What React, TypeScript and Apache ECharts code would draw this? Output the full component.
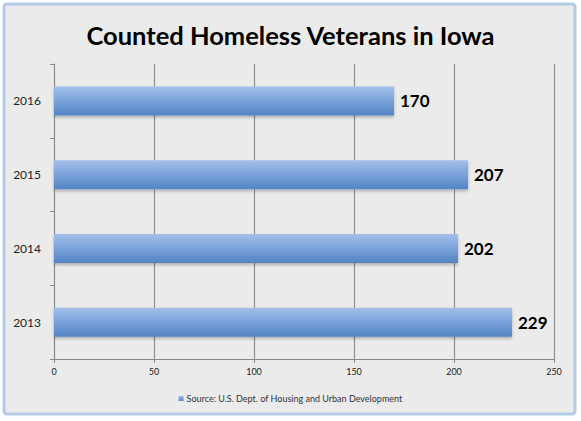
import React, { useEffect, useRef } from "react";
import * as echarts from "echarts";

const title = "Counted Homeless Veterans in Iowa";
const categories = ["2013", "2014", "2015", "2016"];
const values = [229, 202, 207, 170];
const seriesName = "Source: U.S. Dept. of Housing and Urban Development";
const xTicks = [0, 50, 100, 150, 200, 250];

export default function App() {
  const ref = useRef<HTMLDivElement>(null);
  useEffect(() => {
    if (!ref.current) return;
    const chart = echarts.init(ref.current, undefined, { renderer: "svg" });
    const font = "Lato, 'Open Sans', sans-serif";
    chart.setOption({
      animation: false,
      backgroundColor: "#ffffff",
      graphic: [
        {
          type: "rect",
          z: -10,
          silent: true,
          shape: { x: 4, y: 4, width: 571, height: 410, r: 3 },
          style: { fill: "#ebebeb", stroke: "#b3cbe6", lineWidth: 3 },
        },
      ],
      title: {
        text: title,
        left: "center",
        top: 17,
        textStyle: { fontFamily: font, fontWeight: "bold", fontSize: 25.5, color: "#000" },
      },
      grid: { left: 54, right: 27, top: 64, bottom: 62, containLabel: false },
      legend: {
        left: "center",
        top: 389,
        itemWidth: 5,
        itemHeight: 5,
        itemGap: 4,
        icon: "rect",
        textStyle: { fontFamily: font, fontSize: 9, color: "#333", padding: [0, 0, 0, -2] },
        data: [seriesName],
      },
      xAxis: {
        type: "value",
        min: 0,
        max: 250,
        interval: 50,
        axisLine: { show: true, lineStyle: { color: "#888", width: 1 } },
        axisTick: { show: true, length: 4, lineStyle: { color: "#888" } },
        splitLine: { show: true, lineStyle: { color: "#909090", width: 1.2 } },
        axisLabel: {
          fontFamily: font,
          fontSize: 9,
          color: "#222",
          margin: 8,
          formatter: (v: number) => (xTicks.includes(v) ? String(v) : ""),
        },
      },
      yAxis: {
        type: "category",
        data: categories,
        axisLine: { show: true, lineStyle: { color: "#888", width: 1 } },
        axisTick: { show: true, length: 4, inside: false, lineStyle: { color: "#888" } },
        axisLabel: { fontFamily: font, fontSize: 12, color: "#222", margin: 13 },
      },
      series: [
        {
          name: seriesName,
          type: "bar",
          data: values,
          barWidth: 29,
          itemStyle: {
            color: new echarts.graphic.LinearGradient(0, 0, 0, 1, [
              { offset: 0, color: "#a4c0ea" },
              { offset: 0.5, color: "#7aa2da" },
              { offset: 1, color: "#5384c4" },
            ]),
            shadowColor: "rgba(0,0,0,0.25)",
            shadowBlur: 3,
            shadowOffsetY: 2,
          },
          label: {
            show: true,
            position: "right",
            distance: 6,
            fontFamily: font,
            fontWeight: "bold",
            fontSize: 17,
            color: "#000",
          },
        },
      ],
    });
    return () => chart.dispose();
  }, []);
  return (
    <div
      ref={ref}
      style={{ position: "fixed", left: 0, top: 0, width: 581, height: 421 }}
    />
  );
}
